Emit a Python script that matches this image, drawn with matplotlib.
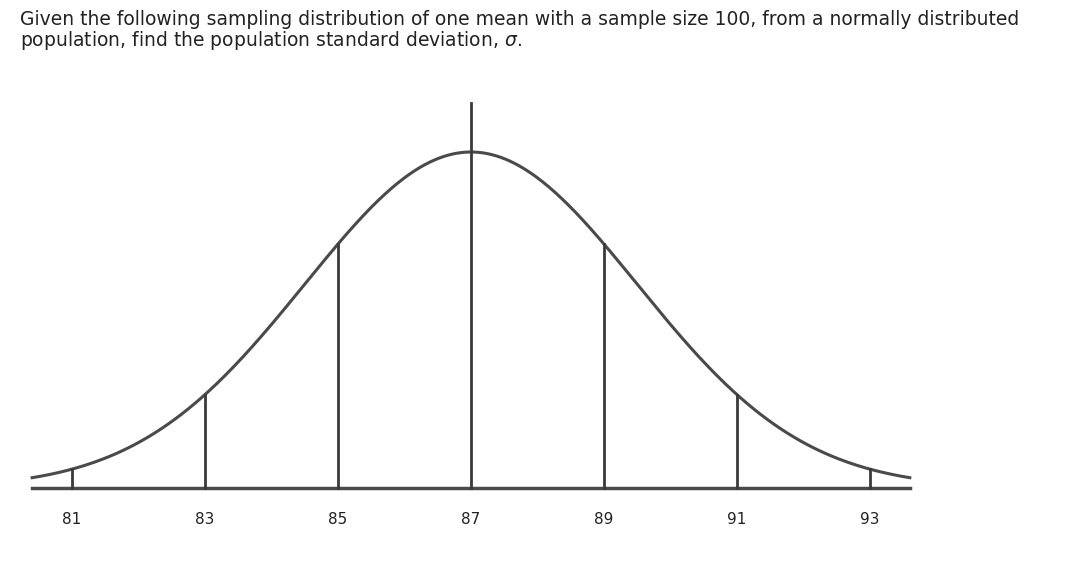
import numpy as np
import matplotlib.pyplot as plt

# mean, spread of the drawn bell, marked values
mean = 87
spread = 2.5
peak = 336
floor = 0
marks = [81, 83, 85, 87, 89, 91, 93]
labels = ['81', '83', '85', '87', '89', '91', '93']

title = ("Given the following sampling distribution of one mean with a sample size 100, from a normally distributed\n"
         "population, find the population standard deviation, $\\sigma$.")

fig = plt.figure(figsize=(10.86, 5.72), dpi=100)
ax = fig.add_axes([0, 0, 1, 1])
ax.set_xlim(79.917, 96.25)
ax.set_ylim(-84, 488)
ax.axis('off')

def bell(x):
    return floor + peak * np.exp(-0.5 * ((x - mean) / spread) ** 2)

x = np.linspace(80.4, 93.6, 400)
ax.plot(x, bell(x), color='#4a4a4a', lw=2.2)
ax.plot([80.4, 93.6], [0, 0], color='#4a4a4a', lw=2.5)

for m, lab in zip(marks, labels):
    top = bell(m) if m != mean else 385
    ax.plot([m, m], [0, top], color='#3a3a3a', lw=2)
    ax.text(m, -32, lab, ha='center', va='center', fontsize=11, color='#222')

fig.text(0.018, 0.982, title, ha='left', va='top', fontsize=13.5, color='#222',
         linespacing=0.98, fontweight='medium')

fig.savefig('out.png', dpi=100)
